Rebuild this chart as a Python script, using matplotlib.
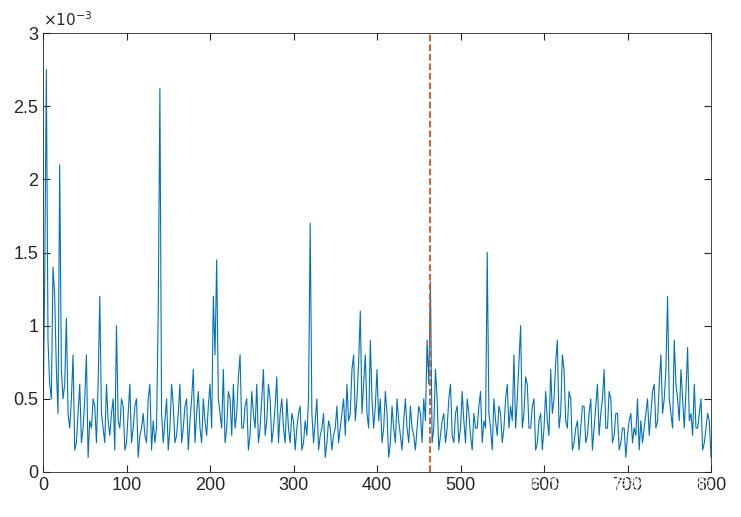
import matplotlib
matplotlib.use("Agg")
import matplotlib.pyplot as plt
import numpy as np

# signal values (x1e-3) at x = 0,4,8,...,800
vals_even = [
0.3,2.75,0.6,1.4,0.7,2.1,0.5,1.05,0.3,0.8,0.2,0.6,0.3,0.8,0.35,0.5,0.2,1.2,0.3,0.6,
0.25,0.5,1.0,0.3,0.45,0.2,0.6,0.3,0.5,0.25,0.4,0.2,0.6,0.35,0.3,2.62,0.2,0.5,0.3,0.45,
0.25,0.6,0.3,0.5,0.35,0.7,0.4,0.3,0.5,0.25,0.6,1.2,1.45,0.4,0.7,0.3,0.5,0.6,0.4,0.8,
0.3,0.5,0.25,0.4,0.6,0.3,0.7,0.35,0.5,0.3,0.65,0.4,0.3,0.5,0.2,0.35,0.3,0.45,0.2,0.25,
1.7,0.2,0.5,0.25,0.4,0.2,0.3,0.25,0.45,0.3,0.5,0.6,0.4,0.8,0.5,1.1,0.6,0.4,0.9,0.3,
0.7,0.5,0.3,0.4,0.2,0.3,0.5,0.25,0.35,0.3,0.45,0.25,0.3,0.4,0.5,0.9,1.3,0.3,0.5,0.25,
0.4,0.3,0.6,0.2,0.45,0.3,0.35,0.5,0.25,0.4,0.3,0.55,0.35,1.5,0.3,0.5,0.25,0.4,0.3,0.6,
0.45,0.8,0.5,1.0,0.4,0.6,0.3,0.5,0.2,0.4,0.3,0.35,0.7,0.5,0.9,0.4,0.7,0.3,0.5,0.2,
0.35,0.3,0.45,0.25,0.5,0.3,0.6,0.4,0.7,0.3,0.5,0.25,0.4,0.2,0.3,0.25,0.4,0.3,0.5,0.35,
0.3,0.5,0.4,0.6,0.35,0.8,0.5,1.2,0.4,0.9,0.5,0.7,0.3,0.85,0.4,0.6,0.3,0.5,0.2,0.4,
0.1,
]
# signal values (x1e-3) at x = 2,6,10,...,798
vals_odd = [
1.3,0.9,0.5,1.2,0.4,0.7,0.6,0.4,0.5,0.15,0.4,0.2,0.5,0.1,0.3,0.45,0.6,0.4,0.2,0.35,
0.4,0.15,0.35,0.5,0.15,0.4,0.2,0.45,0.1,0.3,0.25,0.5,0.15,0.2,1.1,0.4,0.35,0.15,0.6,0.2,
0.4,0.2,0.45,0.15,0.5,0.2,0.55,0.2,0.35,0.45,0.3,0.8,0.5,0.3,0.2,0.55,0.25,0.3,0.65,0.3,
0.45,0.15,0.55,0.3,0.2,0.5,0.25,0.6,0.2,0.45,0.2,0.5,0.2,0.3,0.4,0.15,0.4,0.15,0.35,0.5,
0.4,0.35,0.15,0.3,0.1,0.35,0.15,0.3,0.2,0.4,0.25,0.35,0.7,0.35,0.75,0.4,0.8,0.3,0.5,0.45,
0.35,0.2,0.55,0.1,0.45,0.2,0.35,0.15,0.5,0.2,0.3,0.15,0.45,0.2,0.35,0.6,0.2,0.7,0.15,0.35,
0.2,0.5,0.25,0.4,0.2,0.55,0.2,0.4,0.15,0.3,0.45,0.2,0.3,0.4,0.15,0.35,0.45,0.2,0.5,0.3,
0.35,0.3,0.75,0.3,0.65,0.3,0.45,0.15,0.35,0.15,0.55,0.25,0.4,0.75,0.3,0.8,0.35,0.55,0.15,0.3,
0.15,0.45,0.2,0.4,0.15,0.45,0.25,0.5,0.3,0.55,0.2,0.4,0.15,0.3,0.1,0.35,0.2,0.25,0.15,0.2,
0.4,0.25,0.55,0.3,0.6,0.4,0.7,0.5,0.3,0.6,0.35,0.5,0.55,0.35,0.25,0.3,0.4,0.15,0.3,0.35,
]
line_x = 463

x_even = np.arange(len(vals_even)) * 4
x_odd = np.arange(len(vals_odd)) * 4 + 2
x = np.concatenate([x_even, x_odd])
y = np.concatenate([vals_even, vals_odd])
order = np.argsort(x)
x, y = x[order], y[order] * 1e-3

plt.rcParams['font.family'] = ['Liberation Sans', 'DejaVu Sans']
fig = plt.figure(figsize=(7.41, 5.17), dpi=100)
fig.patch.set_facecolor("white")
ax = fig.add_axes([43/741, 45/517, 668/741, 439/517])
ax.plot(x, y, color="#0072BD", lw=0.8)
ax.axvline(line_x, color="#D95319", ls="--", lw=1.3)
ax.set_xlim(0, 800)
ax.set_ylim(0, 3e-3)
ax.set_xticks(range(0, 801, 100))
ax.set_yticks(np.arange(0, 3.01e-3, 0.5e-3))
ax.set_yticklabels(["0", "0.5", "1", "1.5", "2", "2.5", "3"])
ax.text(0, 1.01, r"$\times10^{-3}$", transform=ax.transAxes, fontsize=11,
        va="bottom", color="#262626")
ax.tick_params(direction="in", labelsize=13, top=True, right=True, length=5,
               colors="#262626")
for s in ax.spines.values():
    s.set_color("#262626"); s.set_linewidth(0.6)
fig.text(0.675, 0.045, "知乎 @哥廷根数学学派", fontsize=15, color="white", alpha=0.85,
         family=["Noto Sans CJK SC", "DejaVu Sans"])
fig.savefig("out.png", dpi=100)
